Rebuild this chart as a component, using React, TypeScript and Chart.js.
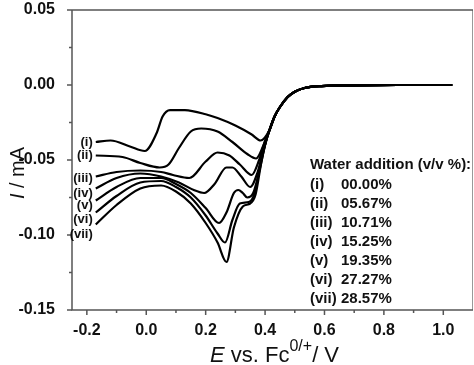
import React, { useEffect, useRef } from 'react';
import { Chart, registerables } from 'chart.js';

Chart.register(...registerables);

// Common anodic rise / plateau shared by all curves
const E_TAIL = [0.432, 0.449, 0.476, 0.5, 0.533, 0.59, 0.7, 0.85, 1.03];
const I_TAIL = [-0.021, -0.015, -0.008, -0.0045, -0.002, -0.0007, -0.0002, 0, 0];

const E_i = [-0.17, -0.12, -0.055, -0.005, 0.035, 0.055, 0.08, 0.13, 0.2, 0.24, 0.3, 0.355, 0.385, 0.415];
const I_i = [-0.038, -0.037, -0.041, -0.044, -0.032, -0.021, -0.0167, -0.0168, -0.0195, -0.022, -0.027, -0.033, -0.037, -0.03];

const E_ii = [-0.17, -0.08, -0.02, 0.045, 0.075, 0.11, 0.15, 0.185, 0.24, 0.29, 0.34, 0.37, 0.395, 0.415];
const I_ii = [-0.047, -0.048, -0.052, -0.055, -0.053, -0.042, -0.031, -0.029, -0.031, -0.038, -0.046, -0.049, -0.04, -0.03];

const E_iii = [-0.17, -0.1, -0.02, 0.05, 0.09, 0.145, 0.2, 0.24, 0.28, 0.315, 0.355, 0.38, 0.4, 0.415];
const I_iii = [-0.061, -0.058, -0.057, -0.058, -0.06, -0.062, -0.051, -0.045, -0.047, -0.053, -0.06, -0.05, -0.037, -0.03];

const E_iv = [-0.17, -0.1, -0.02, 0.05, 0.11, 0.16, 0.195, 0.23, 0.27, 0.29, 0.32, 0.35, 0.375, 0.395, 0.415];
const I_iv = [-0.069, -0.062, -0.059, -0.061, -0.065, -0.07, -0.072, -0.066, -0.055, -0.055, -0.061, -0.068, -0.058, -0.043, -0.03];

const E_v = [-0.17, -0.1, -0.02, 0.05, 0.1, 0.15, 0.2, 0.245, 0.27, 0.295, 0.31, 0.325, 0.34, 0.36, 0.38, 0.4, 0.415];
const I_v = [-0.077, -0.068, -0.062, -0.062, -0.066, -0.072, -0.082, -0.092, -0.085, -0.072, -0.07, -0.072, -0.075, -0.072, -0.058, -0.04, -0.03];

const E_vi = [-0.17, -0.1, -0.02, 0.05, 0.1, 0.15, 0.2, 0.24, 0.265, 0.29, 0.315, 0.345, 0.365, 0.385, 0.405, 0.415];
const I_vi = [-0.085, -0.074, -0.065, -0.064, -0.068, -0.075, -0.087, -0.099, -0.105, -0.09, -0.079, -0.078, -0.072, -0.052, -0.036, -0.03];

const E_vii = [-0.17, -0.1, -0.02, 0.05, 0.1, 0.15, 0.2, 0.24, 0.27, 0.295, 0.325, 0.35, 0.368, 0.387, 0.405, 0.415];
const I_vii = [-0.093, -0.08, -0.069, -0.067, -0.071, -0.079, -0.092, -0.105, -0.118, -0.095, -0.081, -0.079, -0.073, -0.052, -0.036, -0.03];

const SERIES_E = [E_i, E_ii, E_iii, E_iv, E_v, E_vi, E_vii];
const SERIES_I = [I_i, I_ii, I_iii, I_iv, I_v, I_vi, I_vii];
const SERIES_LABELS = ['(i)', '(ii)', '(iii)', '(iv)', '(v)', '(vi)', '(vii)'];
const WATER_PCT = ['00.00%', '05.67%', '10.71%', '15.25%', '19.35%', '27.27%', '28.57%'];
const LEGEND_TITLE = 'Water addition (v/v %):';

const X_TICKS = [-0.2, 0, 0.2, 0.4, 0.6, 0.8, 1.0];
const X_MINOR = [-0.1, 0.1, 0.3, 0.5, 0.7, 0.9];
const Y_TICKS = [-0.15, -0.1, -0.05, 0, 0.05];
const Y_MINOR = [-0.125, -0.075, -0.025, 0.025];

const FONT = '"Liberation Sans", Arial, sans-serif';
const LABEL_DY = [0, 0, 2, 5, 5, 7, 10];

const decorPlugin = {
  id: 'decor',
  afterDraw(chart: any) {
    const ctx = chart.ctx as CanvasRenderingContext2D;
    const { left, right, top, bottom } = chart.chartArea;
    const xs = chart.scales.x;
    const ys = chart.scales.y;
    ctx.save();
    // frame
    ctx.strokeStyle = '#999';
    ctx.lineWidth = 1;
    ctx.beginPath();
    ctx.moveTo(right - 0.5, top);
    ctx.lineTo(right - 0.5, bottom);
    ctx.stroke();
    ctx.strokeStyle = '#555';
    ctx.lineWidth = 1.5;
    ctx.beginPath();
    ctx.moveTo(left, top);
    ctx.lineTo(right, top);
    ctx.moveTo(left, top);
    ctx.lineTo(left, bottom);
    ctx.lineTo(right, bottom);
    ctx.stroke();
    // ticks
    ctx.lineWidth = 1.5;
    ctx.beginPath();
    X_TICKS.forEach((v) => {
      const p = xs.getPixelForValue(v);
      ctx.moveTo(p, bottom);
      ctx.lineTo(p, bottom + 5);
    });
    X_MINOR.forEach((v) => {
      const p = xs.getPixelForValue(v);
      ctx.moveTo(p, bottom);
      ctx.lineTo(p, bottom + 3);
    });
    Y_TICKS.forEach((v) => {
      const p = ys.getPixelForValue(v);
      ctx.moveTo(left, p);
      ctx.lineTo(left - 5, p);
    });
    Y_MINOR.forEach((v) => {
      const p = ys.getPixelForValue(v);
      ctx.moveTo(left, p);
      ctx.lineTo(left - 3, p);
    });
    ctx.stroke();

    // curve labels
    ctx.fillStyle = '#111';
    ctx.font = `bold 13px ${FONT}`;
    ctx.textAlign = 'right';
    ctx.textBaseline = 'middle';
    SERIES_LABELS.forEach((lab, k) => {
      const px = xs.getPixelForValue(SERIES_E[k][0]);
      const py = ys.getPixelForValue(SERIES_I[k][0]);
      ctx.fillText(lab, px - 3, py + LABEL_DY[k]);
    });

    // legend block
    ctx.textAlign = 'left';
    ctx.font = `bold 15px ${FONT}`;
    ctx.fillText(LEGEND_TITLE, 310, 165);
    SERIES_LABELS.forEach((lab, k) => {
      const y = 184.5 + k * 19.1;
      ctx.fillText(lab, 310, y);
      ctx.fillText(WATER_PCT[k], 341, y);
    });

    // x title: E vs. Fc^{0/+} / V
    ctx.textBaseline = 'alphabetic';
    let x = 210;
    const yb = 362;
    ctx.font = `italic 22px ${FONT}`;
    ctx.fillText('E', x, yb);
    x += ctx.measureText('E').width;
    ctx.font = `22px ${FONT}`;
    ctx.fillText(' vs. Fc', x, yb);
    x += ctx.measureText(' vs. Fc').width;
    ctx.font = `16px ${FONT}`;
    ctx.fillText('0/+', x, yb - 11);
    x += ctx.measureText('0/+').width;
    ctx.font = `22px ${FONT}`;
    ctx.fillText('/ V', x, yb);

    // y title: I / mA
    ctx.save();
    ctx.translate(24, 173);
    ctx.rotate(-Math.PI / 2);
    ctx.font = `italic 20px ${FONT}`;
    const w1 = ctx.measureText('I').width;
    ctx.font = `20px ${FONT}`;
    const w2 = ctx.measureText(' / mA').width;
    let tx = -(w1 + w2) / 2;
    ctx.font = `italic 20px ${FONT}`;
    ctx.fillText('I', tx, 0);
    tx += w1;
    ctx.font = `20px ${FONT}`;
    ctx.fillText(' / mA', tx, 0);
    ctx.restore();

    ctx.restore();
  },
};

export default function App() {
  const ref = useRef<HTMLCanvasElement | null>(null);
  useEffect(() => {
    if (!ref.current) return;
    const datasets = SERIES_E.map((E, k) => {
      const xsArr = E.concat(E_TAIL);
      const ysArr = SERIES_I[k].concat(I_TAIL);
      return {
        label: SERIES_LABELS[k],
        data: xsArr.map((x, j) => ({ x, y: ysArr[j] })),
        borderColor: '#000',
        borderWidth: 2.2,
        pointRadius: 0,
        fill: false,
        cubicInterpolationMode: 'monotone' as const,
      };
    });
    const chart = new Chart(ref.current, {
      type: 'line',
      data: { datasets },
      options: {
        animation: false,
        responsive: false,
        devicePixelRatio: 1,
        layout: { padding: { top: 10, right: 1, left: 0, bottom: 0 } },
        plugins: { legend: { display: false }, tooltip: { enabled: false } },
        scales: {
          x: {
            type: 'linear',
            min: -0.25,
            max: 1.1,
            grid: { display: false },
            border: { display: false },
            afterBuildTicks: (s: any) => {
              s.ticks = X_TICKS.map((v) => ({ value: v }));
            },
            afterFit: (s: any) => {
              s.height = 55;
              s.paddingLeft = 0;
              s.paddingRight = 0;
            },
            ticks: {
              color: '#111',
              padding: 3,
              maxRotation: 0,
              font: { family: FONT, size: 16, weight: 'bold' },
              callback: (v: any) => Number(v).toFixed(1),
            },
          },
          y: {
            type: 'linear',
            min: -0.15,
            max: 0.05,
            grid: { display: false },
            border: { display: false },
            afterBuildTicks: (s: any) => {
              s.ticks = Y_TICKS.map((v) => ({ value: v }));
            },
            afterFit: (s: any) => {
              s.width = 72;
              s.paddingTop = 0;
              s.paddingBottom = 0;
            },
            ticks: {
              color: '#111',
              padding: 9,
              font: { family: FONT, size: 16, weight: 'bold' },
              callback: (v: any) => Number(v).toFixed(2),
            },
          },
        },
      },
      plugins: [decorPlugin],
    });
    return () => chart.destroy();
  }, []);
  return (
    <div style={{ position: 'absolute', left: 0, top: 0, width: 474, height: 365, background: '#fff' }}>
      <canvas ref={ref} width={474} height={365} style={{ display: 'block' }} />
    </div>
  );
}
